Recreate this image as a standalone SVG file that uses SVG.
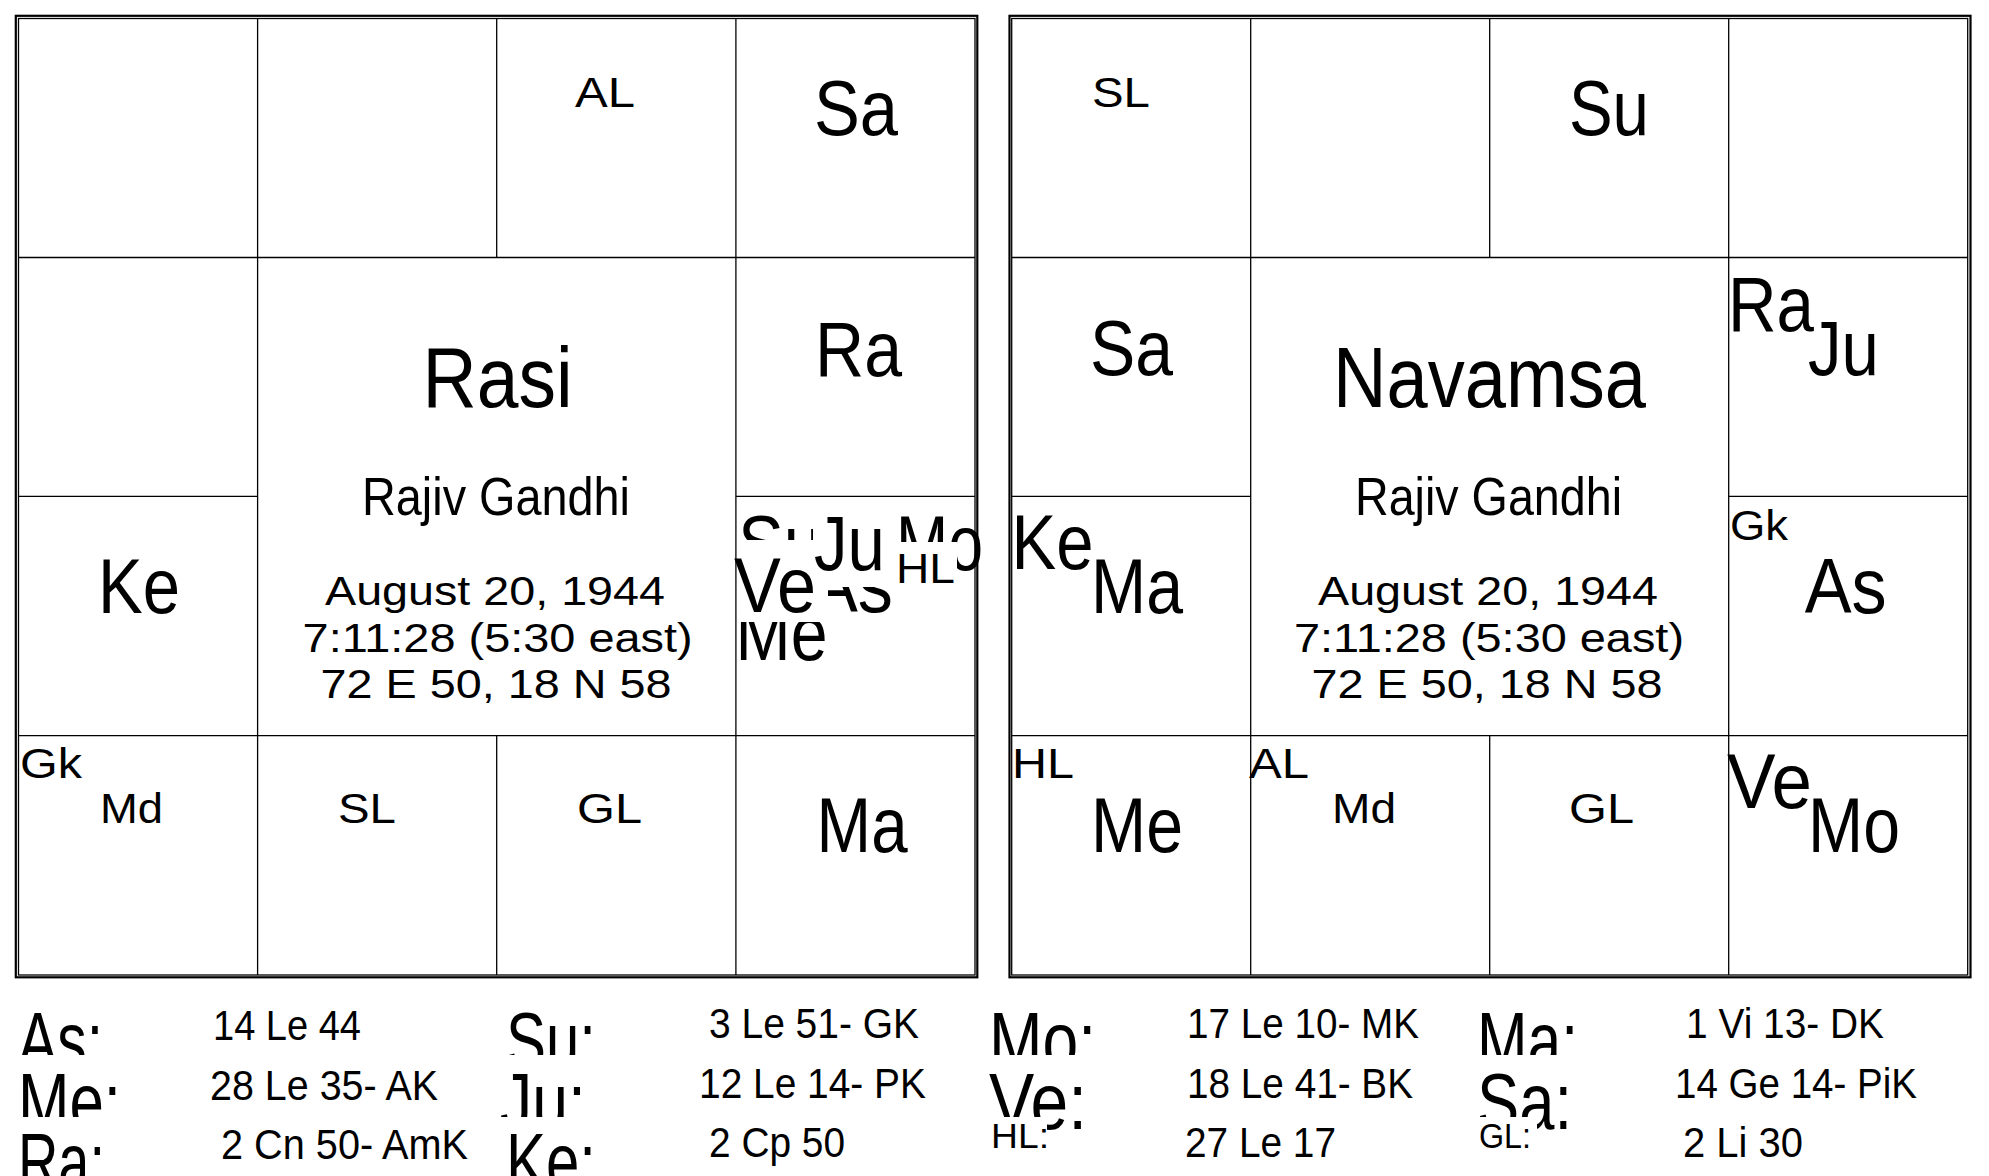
<svg xmlns="http://www.w3.org/2000/svg" width="1989" height="1176" viewBox="0 0 1989 1176">
<style>
text{font-family:"Liberation Sans",Arial,sans-serif;fill:#000}
.L,.T,.N,.B{font-family:"Liberation Sans Narrow","Arial Narrow","Liberation Sans",Arial,sans-serif}
.L{font-size:78px}.M{font-size:43px}.T{font-size:86px}.N{font-size:53.5px}.D{font-size:41px}.V{font-size:42px}.B{font-size:80px}.S{font-size:35px}
.box{fill:#fff}
.outer{fill:none;stroke:#000;stroke-width:2.2}
.inner{fill:none;stroke:#000;stroke-width:1.3}
.grid line{stroke:#000;stroke-width:1.3}
</style>
<rect x="0" y="0" width="1989" height="1176" fill="#fff"/>

<g id="rasi-chart">
  <g id="rasi-h12"><text class="M" x="575" y="107" textLength="60" lengthAdjust="spacingAndGlyphs">AL</text></g>
  <g id="rasi-h11"><text class="L" x="814" y="135" textLength="84" lengthAdjust="spacingAndGlyphs">Sa</text></g>
  <g id="rasi-h10"><text class="L" x="815" y="376" textLength="87" lengthAdjust="spacingAndGlyphs">Ra</text></g>
  <g id="rasi-center">
    <text class="T" x="422.6" y="406.5" textLength="150" lengthAdjust="spacingAndGlyphs">Rasi</text>
    <text class="N" x="362" y="515" textLength="268" lengthAdjust="spacingAndGlyphs">Rajiv Gandhi</text>
    <text class="D" x="325" y="605" textLength="340" lengthAdjust="spacingAndGlyphs">August 20, 1944</text>
    <text class="D" x="302.6" y="652" textLength="390" lengthAdjust="spacingAndGlyphs">7:11:28 (5:30 east)</text>
    <text class="D" x="320.5" y="698" textLength="351" lengthAdjust="spacingAndGlyphs">72 E 50, 18 N 58</text>
  </g>
  <g id="rasi-h3"><text class="L" x="98" y="613" textLength="82" lengthAdjust="spacingAndGlyphs">Ke</text></g>
  <g id="rasi-h4">
    <text class="M" x="20" y="778" textLength="62" lengthAdjust="spacingAndGlyphs">Gk</text>
    <text class="M" x="100" y="823" textLength="63" lengthAdjust="spacingAndGlyphs">Md</text>
  </g>
  <g id="rasi-h5"><text class="M" x="338" y="823" textLength="58" lengthAdjust="spacingAndGlyphs">SL</text></g>
  <g id="rasi-h6"><text class="M" x="577" y="823" textLength="65" lengthAdjust="spacingAndGlyphs">GL</text></g>
  <g id="rasi-h7"><text class="L" x="816.6" y="851.7" textLength="91" lengthAdjust="spacingAndGlyphs">Ma</text></g>
  <g id="rasi-h9">
    <text class="L" x="738" y="570" textLength="84" lengthAdjust="spacingAndGlyphs">Su</text>
    <text class="L" x="811" y="612" textLength="82" lengthAdjust="spacingAndGlyphs">As</text>
    <text class="L" x="735.5" y="660" textLength="92" lengthAdjust="spacingAndGlyphs">Me</text>
    <rect class="box" x="736" y="540" width="92" height="82"/>
    <text class="L" x="734" y="611.7" textLength="82" lengthAdjust="spacingAndGlyphs">Ve</text>
    <rect class="box" x="813" y="505" width="82" height="82"/>
    <text class="L" x="814" y="570" textLength="71" lengthAdjust="spacingAndGlyphs">Ju</text>
    <text class="L" x="896" y="570" textLength="87" lengthAdjust="spacingAndGlyphs">Mo</text>
    <rect class="box" x="895" y="542" width="62" height="50"/>
    <text class="M" x="896" y="583" textLength="59" lengthAdjust="spacingAndGlyphs">HL</text>
  </g>
</g>

<g id="navamsa-chart">
  <g id="nav-h1"><text class="M" x="1092" y="107" textLength="58" lengthAdjust="spacingAndGlyphs">SL</text></g>
  <g id="nav-h3"><text class="L" x="1569" y="135" textLength="80" lengthAdjust="spacingAndGlyphs">Su</text></g>
  <g id="nav-h12"><text class="L" x="1090" y="375" textLength="83" lengthAdjust="spacingAndGlyphs">Sa</text></g>
  <g id="nav-center">
    <text class="T" x="1333" y="406.7" textLength="313" lengthAdjust="spacingAndGlyphs">Navamsa</text>
    <text class="N" x="1355" y="515" textLength="267" lengthAdjust="spacingAndGlyphs">Rajiv Gandhi</text>
    <text class="D" x="1318" y="605" textLength="340" lengthAdjust="spacingAndGlyphs">August 20, 1944</text>
    <text class="D" x="1294" y="652" textLength="390" lengthAdjust="spacingAndGlyphs">7:11:28 (5:30 east)</text>
    <text class="D" x="1311.6" y="698" textLength="351" lengthAdjust="spacingAndGlyphs">72 E 50, 18 N 58</text>
  </g>
  <g id="nav-h4">
    <text class="L" x="1728" y="331" textLength="86" lengthAdjust="spacingAndGlyphs">Ra</text>
    <text class="L" x="1808" y="375" textLength="71" lengthAdjust="spacingAndGlyphs">Ju</text>
  </g>
  <g id="nav-h11">
    <text class="L" x="1011.5" y="569" textLength="82" lengthAdjust="spacingAndGlyphs">Ke</text>
    <text class="L" x="1091" y="613" textLength="92" lengthAdjust="spacingAndGlyphs">Ma</text>
  </g>
  <g id="nav-h5">
    <text class="M" x="1730" y="540" textLength="58" lengthAdjust="spacingAndGlyphs">Gk</text>
    <text class="L" x="1804.7" y="613" textLength="82" lengthAdjust="spacingAndGlyphs">As</text>
  </g>
  <g id="nav-h10">
    <text class="M" x="1012" y="778" textLength="62" lengthAdjust="spacingAndGlyphs">HL</text>
    <text class="L" x="1091" y="851.7" textLength="92" lengthAdjust="spacingAndGlyphs">Me</text>
  </g>
  <g id="nav-h9">
    <text class="M" x="1249" y="778" textLength="60" lengthAdjust="spacingAndGlyphs">AL</text>
    <text class="M" x="1332" y="823" textLength="64" lengthAdjust="spacingAndGlyphs">Md</text>
  </g>
  <g id="nav-h8"><text class="M" x="1569" y="823" textLength="65" lengthAdjust="spacingAndGlyphs">GL</text></g>
  <g id="nav-h7">
    <text class="L" x="1727" y="808" textLength="85" lengthAdjust="spacingAndGlyphs">Ve</text>
    <text class="L" x="1808" y="851.7" textLength="92" lengthAdjust="spacingAndGlyphs">Mo</text>
  </g>
</g>

<g class="grid" id="connectors">
  <rect class="outer" x="15.8" y="15.8" width="961.5" height="961.5"/>
  <rect class="inner" x="18.5" y="18.5" width="956.5" height="956.5"/>
  <line x1="257.6" y1="18.5" x2="257.6" y2="975"/>
  <line x1="735.9" y1="18.5" x2="735.9" y2="975"/>
  <line x1="496.7" y1="18.5" x2="496.7" y2="257.5"/>
  <line x1="496.7" y1="735.7" x2="496.7" y2="975"/>
  <line x1="18.5" y1="257.5" x2="975" y2="257.5"/>
  <line x1="18.5" y1="735.7" x2="975" y2="735.7"/>
  <line x1="18.5" y1="496.3" x2="257.6" y2="496.3"/>
  <line x1="735.9" y1="496.3" x2="975" y2="496.3"/>

  <rect class="outer" x="1009.5" y="15.8" width="961" height="961.5"/>
  <rect class="inner" x="1011.7" y="18.5" width="956" height="956.5"/>
  <line x1="1250.7" y1="18.5" x2="1250.7" y2="975"/>
  <line x1="1728.7" y1="18.5" x2="1728.7" y2="975"/>
  <line x1="1489.7" y1="18.5" x2="1489.7" y2="257.5"/>
  <line x1="1489.7" y1="735.7" x2="1489.7" y2="975"/>
  <line x1="1011.7" y1="257.5" x2="1967.7" y2="257.5"/>
  <line x1="1011.7" y1="735.7" x2="1967.7" y2="735.7"/>
  <line x1="1011.7" y1="496.3" x2="1250.7" y2="496.3"/>
  <line x1="1728.7" y1="496.3" x2="1967.7" y2="496.3"/>
</g>

<g id="positions-table">
  <g id="table-values">
    <text class="V" x="213" y="1040" textLength="148" lengthAdjust="spacingAndGlyphs">14 Le 44</text>
    <text class="V" x="210" y="1100" textLength="228" lengthAdjust="spacingAndGlyphs">28 Le 35- AK</text>
    <text class="V" x="221" y="1159" textLength="247" lengthAdjust="spacingAndGlyphs">2 Cn 50- AmK</text>
    <text class="V" x="709" y="1038" textLength="210" lengthAdjust="spacingAndGlyphs">3 Le 51- GK</text>
    <text class="V" x="699" y="1098" textLength="227" lengthAdjust="spacingAndGlyphs">12 Le 14- PK</text>
    <text class="V" x="709" y="1157" textLength="136" lengthAdjust="spacingAndGlyphs">2 Cp 50</text>
    <text class="V" x="1187" y="1038" textLength="232" lengthAdjust="spacingAndGlyphs">17 Le 10- MK</text>
    <text class="V" x="1187" y="1098" textLength="226" lengthAdjust="spacingAndGlyphs">18 Le 41- BK</text>
    <text class="V" x="1185" y="1157" textLength="151" lengthAdjust="spacingAndGlyphs">27 Le 17</text>
    <text class="V" x="1686" y="1038" textLength="198" lengthAdjust="spacingAndGlyphs">1 Vi 13- DK</text>
    <text class="V" x="1675" y="1098" textLength="242" lengthAdjust="spacingAndGlyphs">14 Ge 14- PiK</text>
    <text class="V" x="1683" y="1157" textLength="120" lengthAdjust="spacingAndGlyphs">2 Li 30</text>
  </g>
  <g id="table-labels">
    <text class="B" x="18" y="1068" textLength="85" lengthAdjust="spacingAndGlyphs">As:</text>
    <text class="B" x="506" y="1068" textLength="90" lengthAdjust="spacingAndGlyphs">Su:</text>
    <text class="B" x="989" y="1068" textLength="107" lengthAdjust="spacingAndGlyphs">Mo:</text>
    <text class="B" x="1477" y="1068" textLength="101" lengthAdjust="spacingAndGlyphs">Ma:</text>
    <rect class="box" x="12" y="1055" width="193" height="62"/>
    <rect class="box" x="498" y="1055" width="197" height="62"/>
    <rect class="box" x="985" y="1055" width="195" height="62"/>
    <rect class="box" x="1473" y="1055" width="192" height="62"/>
    <text class="B" x="18" y="1129" textLength="103" lengthAdjust="spacingAndGlyphs">Me:</text>
    <text class="B" x="500" y="1129" textLength="86" lengthAdjust="spacingAndGlyphs">Ju:</text>
    <text class="B" x="989" y="1129" textLength="98" lengthAdjust="spacingAndGlyphs">Ve:</text>
    <text class="B" x="1477" y="1129" textLength="95" lengthAdjust="spacingAndGlyphs">Sa:</text>
    <rect class="box" x="12" y="1117" width="193" height="59"/>
    <rect class="box" x="498" y="1117" width="197" height="59"/>
    <rect class="box" x="985" y="1117" width="62" height="43"/>
    <rect class="box" x="1473" y="1117" width="64" height="43"/>
    <text class="B" x="18" y="1189" textLength="87" lengthAdjust="spacingAndGlyphs">Ra:</text>
    <text class="B" x="506" y="1189" textLength="90" lengthAdjust="spacingAndGlyphs">Ke:</text>
    <text class="S" x="991" y="1148" textLength="58" lengthAdjust="spacingAndGlyphs">HL:</text>
    <text class="S" x="1479" y="1148" textLength="52" lengthAdjust="spacingAndGlyphs">GL:</text>
  </g>
</g>
</svg>
